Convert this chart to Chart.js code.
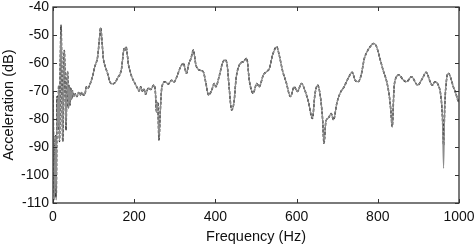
<!DOCTYPE html>
<html>
<head>
<meta charset="utf-8">
<script src="https://cdn.jsdelivr.net/npm/chart.js@4.4.1/dist/chart.umd.min.js"></script>
<style>
  html, body { margin: 0; padding: 0; background: #fff; }
  #wrap { width: 474px; height: 248px; }
</style>
</head>
<body>
<div id="wrap"><canvas id="myChart" width="474" height="248"></canvas></div>
<script>
// frequencias (Hz)
var freq = [0, 2, 4, 6, 8, 10, 12, 14, 16, 18, 20, 22, 24, 26, 28, 30, 32, 34, 36, 38,
    40, 42, 44, 46, 48, 51, 55, 59, 63, 67, 71, 75, 79, 82, 86, 91, 97, 103, 110, 114,
    117.5, 121, 124, 130, 135, 140, 146, 153, 157, 161, 165, 169, 172, 175, 177, 180, 183, 186, 190, 194,
    199, 204, 208, 212, 216, 220, 224, 228, 235, 241, 248, 252, 255, 258, 261, 264, 268, 276, 284, 292,
    298, 305, 313, 321, 329, 334, 340, 345.6, 352, 360, 370, 376, 383, 391, 397, 401, 409, 418, 424, 429,
    434, 440, 446, 451, 459, 469, 477, 484, 493, 502, 508, 518, 526, 533, 541, 551, 557, 566, 574, 585,
    594, 602, 612, 621, 629, 639, 645, 652, 658, 664, 667.5, 672, 679, 685, 691, 699, 707, 717, 727, 737,
    744, 752, 759, 767, 773, 781, 790, 797, 805, 813, 822, 828, 832, 835.5, 840, 844, 852, 863, 871, 883,
    898, 910, 919, 929, 934, 941, 949, 955, 959, 962, 965, 969.7, 974, 980, 986, 992, 997, 1000];

// curva tracejada (preta)
var accelDashed = [-70, -95, -108, -86, -108, -72, -84, -68, -88, -60, -46.5, -68, -88, -66, -55.5, -70, -84, -70, -63, -76,
    -68, -75, -69, -73, -70, -72, -71, -72, -70.5, -71.5, -70.5, -71.5, -71, -68.5, -69, -67.6, -65, -61.3, -57.7, -52,
    -47.4, -53, -58.3, -61.8, -64, -66.7, -67.5, -67, -66, -64.9, -64, -61.8, -58, -54.8, -55.5, -54.2, -57, -60.7, -63, -64.9,
    -66.5, -67.9, -69, -70, -68.5, -70, -69.2, -71.2, -68.9, -69.5, -67.9, -70, -77.4, -74, -87.5, -78, -68.8, -66.7, -67.5, -66.2,
    -66.8, -64.9, -61.8, -60.1, -63.7, -60.5, -58.3, -55.4, -60.7, -62.5, -63.1, -66.7, -71.4, -69.7, -67.3, -68.5, -64.9, -59.8, -58.9, -60.7,
    -69, -76.8, -73.8, -65.5, -60.7, -59.5, -58.3, -66.7, -70.8, -67.3, -68.5, -64.3, -63.1, -61.9, -57.1, -54.2, -57.1, -63.1, -66.7, -72,
    -68.5, -70.2, -67.3, -70, -73.8, -79.8, -71.4, -67.9, -71.4, -80, -88.7, -81, -79.5, -78, -80.3, -74.4, -70.8, -68.5, -65.5, -63.3,
    -66.1, -66.7, -64.3, -58.3, -56.2, -54.2, -53, -54.2, -58.3, -62.5, -66.7, -71.4, -76.8, -82.7, -69, -65.5, -64.3, -66.1, -66.7, -64.9,
    -67.9, -65.5, -63.3, -66.7, -67.9, -66.7, -67.9, -71.4, -78.6, -89.3, -75, -65.5, -63.7, -65.5, -68.5, -70.8, -73.2, -74];

// curva continua (cinza)
var accelSolid = [-70, -96, -109, -86, -109, -72, -84, -68, -88, -60, -46.5, -68, -88, -66, -55.5, -70, -84, -70, -63, -76,
    -68, -75, -69, -73, -70, -72, -71, -72, -70.5, -71.5, -70.5, -71.5, -71, -68.5, -69, -67.6, -65, -61.3, -57.7, -52,
    -47.4, -53, -58.3, -61.8, -64, -66.7, -67.5, -67, -66, -64.9, -64, -61.8, -58, -54.8, -55.5, -54.2, -57, -60.7, -63, -64.9,
    -66.5, -67.9, -69, -70, -68.5, -70, -69.2, -71.2, -68.9, -69.5, -67.9, -70, -77.4, -74, -87.5, -78, -68.8, -66.7, -67.5, -66.2,
    -66.8, -64.9, -61.8, -60.1, -63.7, -60.5, -58.3, -55.4, -60.7, -62.5, -63.1, -66.7, -71.4, -69.7, -67.3, -68.5, -64.9, -59.8, -58.9, -60.7,
    -69, -76.8, -73.8, -65.5, -60.7, -59.5, -58.3, -66.7, -70.8, -67.3, -68.5, -64.3, -63.1, -61.9, -57.1, -54.2, -57.1, -63.1, -66.7, -72,
    -68.5, -70.2, -67.3, -70, -73.8, -79.8, -71.4, -67.9, -71.4, -80, -88.7, -81, -79.5, -78, -80.3, -74.4, -70.8, -68.5, -65.5, -63.3,
    -66.1, -66.7, -64.3, -58.3, -56.2, -54.2, -53, -54.2, -58.3, -62.5, -66.7, -71.4, -76.8, -82.7, -69, -65.5, -64.3, -66.1, -66.7, -64.9,
    -67.9, -65.5, -63.3, -66.7, -67.9, -66.7, -67.9, -71.4, -78.6, -97.6, -75, -65.5, -63.7, -65.5, -68.5, -70.8, -73.2, -74];

var xTicks = [0, 200, 400, 600, 800, 1000];
var yTicks = [-110, -100, -90, -80, -70, -60, -50, -40];

function pontos(ys) {
    var out = [];
    for (var i = 0; i < freq.length; i++) {
        out.push({ x: freq[i], y: ys[i] });
    }
    return out;
}

// moldura e marcas para dentro nos quatro lados
var moldura = {
    id: 'moldura',
    afterDraw: function (chart) {
        var ctx = chart.ctx;
        var a = chart.chartArea;
        var sx = chart.scales.x;
        var sy = chart.scales.y;
        var len = 4;
        ctx.save();
        ctx.strokeStyle = '#333';
        ctx.lineWidth = 1;
        ctx.beginPath();
        xTicks.forEach(function (v) {
            var px = Math.round(sx.getPixelForValue(v)) + 0.5;
            ctx.moveTo(px, a.bottom); ctx.lineTo(px, a.bottom - len);
            ctx.moveTo(px, a.top); ctx.lineTo(px, a.top + len);
        });
        yTicks.forEach(function (v) {
            var py = Math.round(sy.getPixelForValue(v)) + 0.5;
            ctx.moveTo(a.left, py); ctx.lineTo(a.left + len, py);
            ctx.moveTo(a.right, py); ctx.lineTo(a.right - len, py);
        });
        ctx.stroke();
        ctx.lineWidth = 1.3;
        ctx.strokeRect(a.left, a.top, a.right - a.left, a.bottom - a.top);
        ctx.restore();
    }
};

Chart.defaults.font.family = '"Liberation Sans", Arial, sans-serif';
Chart.defaults.color = '#111';

const ctx = document.getElementById('myChart');
new Chart(ctx, {
    type: 'line',
    data: {
        datasets: [{
            label: 'solid',
            data: pontos(accelSolid),
            borderColor: '#8c8c8c',
            borderWidth: 1.2,
            pointRadius: 0,
            cubicInterpolationMode: 'monotone',
            fill: false
        },
        {
            label: 'dashed',
            data: pontos(accelDashed),
            borderColor: '#000',
            borderWidth: 1.5,
            borderDash: [3, 1.5],
            pointRadius: 0,
            cubicInterpolationMode: 'monotone',
            fill: false
        }]
    },
    options: {
        responsive: false,
        animation: false,
        layout: { autoPadding: false, padding: { top: 7, right: 15, left: 0, bottom: 0 } },
        plugins: {
            legend: { display: false },
            tooltip: { enabled: false }
        },
        scales: {
            x: {
                type: 'linear',
                min: 0,
                max: 1000,
                afterBuildTicks: function (s) { s.ticks = xTicks.map(function (v) { return { value: v }; }); },
                afterFit: function (s) { s.height = 45; s.paddingLeft = 0; s.paddingRight = 0; },
                grid: { display: false, drawTicks: false },
                border: { display: false },
                ticks: {
                    font: { size: 14 }, padding: 6, maxRotation: 0, autoSkip: false,
                    callback: function (v) { return String(v); }
                },
                title: { display: true, text: 'Frequency (Hz)', font: { size: 14.5 }, padding: { top: 0, bottom: 2 } }
            },
            y: {
                type: 'linear',
                min: -110,
                max: -40,
                afterBuildTicks: function (s) { s.ticks = yTicks.map(function (v) { return { value: v }; }); },
                afterFit: function (s) { s.width = 53; s.paddingTop = 0; s.paddingBottom = 0; },
                grid: { display: false, drawTicks: false },
                border: { display: false },
                ticks: {
                    font: { size: 14 }, padding: 4, autoSkip: false,
                    callback: function (v) { return String(v); }
                },
                title: { display: true, text: 'Acceleration (dB)', font: { size: 14.5 }, padding: { top: 0, bottom: 0 } }
            }
        }
    },
    plugins: [moldura]
});
</script>
</body>
</html>
